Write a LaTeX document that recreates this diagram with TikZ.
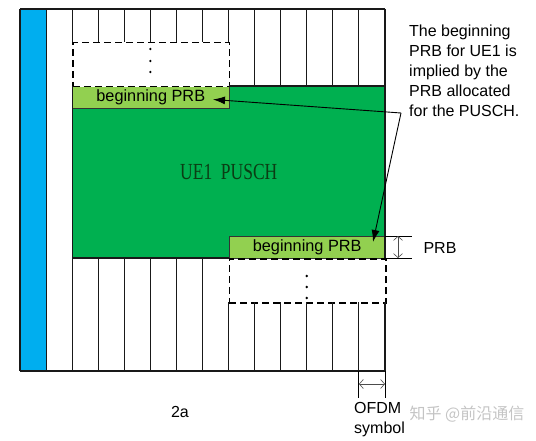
\documentclass[tikz,border=0pt]{standalone}
\usepackage{fontspec}
\setmainfont{Liberation Sans}
\newfontfamily\serifx{Liberation Serif}
\newfontfamily\cjk{Noto Sans CJK SC}
\usetikzlibrary{arrows.meta}
\definecolor{pgreen}{HTML}{00B050}
\definecolor{lgreen}{HTML}{92D050}
\definecolor{cblue}{HTML}{00AEEF}
\definecolor{dgreen}{HTML}{0B3D14}
\definecolor{wm}{HTML}{C4C4C4}
\begin{document}
\begin{tikzpicture}[x=1pt,y=-1pt,
 grid/.style={draw=black!90,line width=1.1pt},
 dashbox/.style={draw=black,line width=1.5pt,dash pattern=on 7pt off 4pt,fill=white,anchor=north west,minimum width=156.43pt,minimum height=44pt,inner sep=0pt},
 lgbox/.style={draw=black!80,fill=lgreen,line width=0.9pt,anchor=north west,minimum width=156.43pt,minimum height=22pt,inner sep=0pt,font=\fontsize{16.3}{18}\selectfont},
 lbl/.style={font=\fontsize{16}{20}\selectfont,inner sep=0pt},
 dim/.style={draw=black!70,line width=0.6pt,{Straight Barb[length=4pt,width=9pt]}-{Straight Barb[length=4pt,width=9pt]}},
 ext/.style={draw=black,line width=0.9pt},
 ptr/.style={draw=black,line width=0.9pt,-{Latex[length=12pt,width=8pt]}},
 dotm/.style={fill=black}
]
\useasboundingbox (0,0) rectangle (536,441);

% blue column
\fill[cblue] (20,9) rectangle (46.07,371);

% green PUSCH region
\node[fill=pgreen,anchor=north west,minimum width=312.86pt,minimum height=172pt,inner sep=0pt,
      font=\serifx\fontsize{23}{26}\selectfont,text=dgreen] (pusch) at (72.14,86)
      {\scalebox{0.76}[1]{UE1\ \ PUSCH}};

% beginning PRB boxes
\node[lgbox] (b1) at (72.14,86) {beginning PRB};
\node[lgbox] (b2) at (228.57,236) {beginning PRB};

% dashed boxes
\node[dashbox] (d1) at (72.14,42) {};
\node[dashbox] (d2) at (228.57,258) {};

% dots
\foreach \yy in {49,61,72} \fill[dotm] (150.36,\yy) circle (1.3pt);
\foreach \yy in {276,287,298} \fill[dotm] (306.79,\yy) circle (1.3pt);

% grid
\draw[grid] (20,9) -- (385,9);
\draw[grid] (20,371) -- (385,371);
\draw[grid] (20,9) -- (20,371);
\draw[grid] (46.07,9) -- (46.07,371);
\draw[grid] (72.14,9) -- (72.14,42) (72.14,86) -- (72.14,371);
\draw[grid] (72.14,258) -- (228.57,258);
\draw[grid] (228.57,86) -- (385,86);
\foreach \xx in {98.21,124.29,150.36,176.43,202.5}
  \draw[grid] (\xx,9) -- (\xx,42) (\xx,258) -- (\xx,371);
\draw[grid] (228.57,9) -- (228.57,42) (228.57,302) -- (228.57,371);
\foreach \xx in {254.64,280.71,306.79,332.86,358.93}
  \draw[grid] (\xx,9) -- (\xx,86) (\xx,302) -- (\xx,371);
\draw[grid] (385,9) -- (385,258) (385,302) -- (385,371);

% pointer arrows
\coordinate (bend) at (401,113);
\coordinate (t1) at (213,99.5);
\coordinate (t2) at (373,242);
\draw[ptr] (bend) -- (t1);
\draw[ptr] (bend) -- (t2);

% PRB dimension
\coordinate (pa1) at (385,236);
\coordinate (pa2) at (412,236);
\coordinate (pb1) at (385,258);
\coordinate (pb2) at (412,258);
\coordinate (pu) at (398,236);
\coordinate (pd) at (398,258);
\draw[ext] (pa1) -- (pa2);
\draw[ext] (pb1) -- (pb2);
\draw[dim] (pu) -- (pd);
\node[lbl] (prb) at (440,248) {PRB};

% OFDM symbol dimension
\coordinate (oa1) at (358.93,371);
\coordinate (oa2) at (358.93,398);
\coordinate (ob1) at (385,371);
\coordinate (ob2) at (385,398);
\coordinate (ol) at (358.93,384);
\coordinate (or) at (385,384);
\draw[ext] (oa1) -- (oa2);
\draw[ext] (ob1) -- (ob2);
\draw[dim] (ol) -- (or);
\node[lbl,align=left,anchor=north west] (ofdm) at (354,402) {OFDM\\symbol};

% labels
\node[lbl] (fig) at (180,412) {2a};
\node[lbl,align=left,anchor=north west] (note) at (409,25)
  {The beginning\\PRB for UE1 is\\implied by the\\PRB allocated\\for the PUSCH.};

% watermark
\node[inner sep=0pt,font=\cjk\fontsize{16}{18}\selectfont,text=wm] (wmk) at (467,414) {知乎 @前沿通信};
\end{tikzpicture}
\end{document}
